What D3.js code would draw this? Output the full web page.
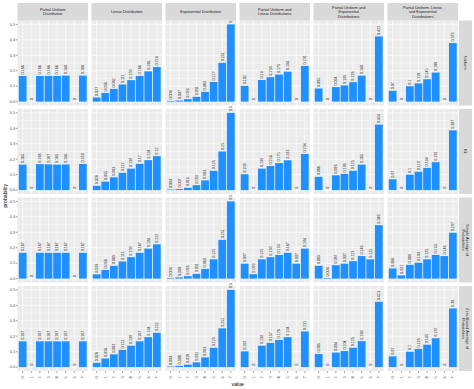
<!DOCTYPE html>
<html>
<head>
<meta charset="utf-8">
<script src="https://cdnjs.cloudflare.com/ajax/libs/d3/7.8.5/d3.min.js"></script>
<style>
  body { margin: 0; background: #fff; }
  text { font-family: "Liberation Sans", Arial, sans-serif; }
</style>
</head>
<body>
<div id="chart_div"></div>
<script>
// categories on the x axis
var categories = ["0", "1", "2", "3", "4", "5", "6", "7"];

// facet titles
var columnTitles = [
  ["Partial Uniform", "Distribution"],
  ["Linear Distribution"],
  ["Exponential Distribution"],
  ["Partial Uniform and", "Linear Distributions"],
  ["Partial Uniform and", "Exponential", "Distributions"],
  ["Partial Uniform, Linear,", "and Exponential", "Distributions"]
];
var rowTitles = [
  ["Uniform"],
  ["KL"],
  ["Simple Average of", "Probabilities"],
  ["Zero-Biased Average of", "Probabilities"]
];

// probabilities, one list per panel (row by row)
var uniformValues = [
  [0.166, 0, 0.166, 0.166, 0.166, 0.168, 0, 0.168],
  [0.027, 0.056, 0.082, 0.111, 0.139, 0.166, 0.196, 0.224],
  [0.004, 0.007, 0.016, 0.031, 0.063, 0.127, 0.251, 0.5],
  [0.102, 0, 0.14, 0.158, 0.175, 0.194, 0, 0.231],
  [0.085, 0, 0.094, 0.105, 0.126, 0.168, 0, 0.422],
  [0.07, 0, 0.1, 0.118, 0.145, 0.188, 0, 0.379]
];
var klValues = [
  [0.165, 0, 0.168, 0.167, 0.165, 0.166, 0, 0.169],
  [0.028, 0.055, 0.083, 0.112, 0.139, 0.17, 0.194, 0.22],
  [0.004, 0.007, 0.015, 0.032, 0.063, 0.125, 0.25, 0.5],
  [0.103, 0, 0.139, 0.156, 0.175, 0.193, 0, 0.234],
  [0.086, 0, 0.096, 0.105, 0.125, 0.165, 0, 0.424],
  [0.07, 0, 0.1, 0.119, 0.144, 0.181, 0, 0.387]
];
var simpleAvgValues = [
  [0.167, 0, 0.167, 0.167, 0.167, 0.167, 0, 0.167],
  [0.028, 0.056, 0.083, 0.111, 0.139, 0.167, 0.194, 0.222],
  [0.004, 0.008, 0.016, 0.031, 0.063, 0.125, 0.251, 0.5],
  [0.097, 0.029, 0.125, 0.139, 0.153, 0.167, 0.097, 0.194],
  [0.083, 0.004, 0.087, 0.097, 0.113, 0.146, 0.125, 0.346],
  [0.066, 0.021, 0.089, 0.103, 0.125, 0.153, 0.146, 0.297]
];
var zeroAvgValues = [
  [0.167, 0, 0.167, 0.167, 0.167, 0.167, 0, 0.167],
  [0.028, 0.056, 0.083, 0.111, 0.139, 0.167, 0.194, 0.222],
  [0.004, 0.008, 0.016, 0.031, 0.063, 0.125, 0.251, 0.5],
  [0.102, 0, 0.139, 0.157, 0.176, 0.194, 0, 0.231],
  [0.085, 0, 0.094, 0.104, 0.125, 0.168, 0, 0.423],
  [0.07, 0, 0.1, 0.118, 0.145, 0.187, 0, 0.38]
];
var rowValues = [uniformValues, klValues, simpleAvgValues, zeroAvgValues];

var yTicks = [0, 0.1, 0.2, 0.3, 0.4, 0.5];
var yMinor = [0.05, 0.15, 0.25, 0.35, 0.45];

// layout of the facet grid ("top" is taken by window, so prefix everything)
var chartW = 474, chartH = 389;
var gridLeft = 17.5, gridRight = 458, gridTop = 20.5, gridBottom = 371, gap = 3.5;
var stripTop = 3;
var pw = (gridRight - gridLeft - 5 * gap) / 6;
var ph = (gridBottom - gridTop - 3 * gap) / 4;

var svg = d3.select("#chart_div")
  .append("svg")
  .attr("width", chartW)
  .attr("height", chartH);

// scales shared by every panel (ggplot-like expansion)
var x = d3.scaleBand()
  .domain(categories)
  .range([0, pw])
  .paddingInner(0.1)
  .paddingOuter(0.15);

var y = d3.scaleLinear()
  .domain([-0.025, 0.525])
  .range([ph, 0]);

rowValues.forEach(function(rowData, r) {
  rowData.forEach(function(vals, c) {
    var px = gridLeft + c * (pw + gap);
    var py = gridTop + r * (ph + gap);
    var g = svg.append("g").attr("transform", "translate(" + px + "," + py + ")");

    // panel background + grid
    g.append("rect").attr("width", pw).attr("height", ph).attr("fill", "#EBEBEB");
    g.selectAll(".minor").data(yMinor).enter().append("line")
      .attr("x1", 0).attr("x2", pw)
      .attr("y1", function(d) { return y(d); }).attr("y2", function(d) { return y(d); })
      .attr("stroke", "#fff").attr("stroke-width", 0.35);
    g.selectAll(".major").data(yTicks).enter().append("line")
      .attr("x1", 0).attr("x2", pw)
      .attr("y1", function(d) { return y(d); }).attr("y2", function(d) { return y(d); })
      .attr("stroke", "#fff").attr("stroke-width", 0.7);
    g.selectAll(".vgrid").data(categories).enter().append("line")
      .attr("x1", function(d) { return x(d) + x.bandwidth() / 2; })
      .attr("x2", function(d) { return x(d) + x.bandwidth() / 2; })
      .attr("y1", 0).attr("y2", ph)
      .attr("stroke", "#fff").attr("stroke-width", 0.7);

    // bars
    g.selectAll(".bar").data(vals).enter().append("rect")
      .attr("x", function(d, i) { return x(categories[i]); })
      .attr("y", function(d) { return y(d); })
      .attr("width", x.bandwidth())
      .attr("height", function(d) { return y(0) - y(d); })
      .attr("fill", "#1E90FF");

    // value labels, rotated
    g.selectAll(".lab").data(vals).enter().append("text")
      .attr("transform", function(d, i) {
        return "translate(" + (x(categories[i]) + x.bandwidth() / 2 + 1.3) + "," + (y(d) - 1.5) + ")rotate(-90)";
      })
      .attr("font-size", 3.7)
      .attr("fill", "#222")
      .text(function(d) { return String(d); });

    // y axis on the first column
    if (c === 0) {
      var yg = svg.append("g").attr("transform", "translate(" + gridLeft + "," + py + ")");
      yg.selectAll("line").data(yTicks).enter().append("line")
        .attr("x1", -1.8).attr("x2", 0)
        .attr("y1", function(d) { return y(d); }).attr("y2", function(d) { return y(d); })
        .attr("stroke", "#333").attr("stroke-width", 0.5);
      yg.selectAll("text").data(yTicks).enter().append("text")
        .attr("x", -2.5)
        .attr("y", function(d) { return y(d) + 1.3; })
        .attr("text-anchor", "end")
        .attr("font-size", 3.8)
        .attr("fill", "#4D4D4D")
        .text(function(d) { return d3.format(".1f")(d); });
    }

    // x axis on the last row
    if (r === 3) {
      var xg = svg.append("g").attr("transform", "translate(" + px + "," + (py + ph) + ")");
      xg.selectAll("line").data(categories).enter().append("line")
        .attr("x1", function(d) { return x(d) + x.bandwidth() / 2; })
        .attr("x2", function(d) { return x(d) + x.bandwidth() / 2; })
        .attr("y1", 0).attr("y2", 1.8)
        .attr("stroke", "#333").attr("stroke-width", 0.5);
      xg.selectAll("text").data(categories).enter().append("text")
        .attr("transform", function(d) {
          return "translate(" + (x(d) + x.bandwidth() / 2 + 1.3) + ",6.5)rotate(-90)";
        })
        .attr("text-anchor", "middle")
        .attr("font-size", 3.8)
        .attr("fill", "#4D4D4D")
        .text(function(d) { return d; });
    }
  });
});

// column strips
columnTitles.forEach(function(lines, c) {
  var px = gridLeft + c * (pw + gap);
  svg.append("rect")
    .attr("x", px).attr("y", stripTop)
    .attr("width", pw).attr("height", gridTop - stripTop)
    .attr("fill", "#D9D9D9");
  var mid = stripTop + (gridTop - stripTop) / 2;
  var lh = 4.6;
  lines.forEach(function(t, i) {
    svg.append("text")
      .attr("x", px + pw / 2)
      .attr("y", mid + (i - (lines.length - 1) / 2) * lh + 1.4)
      .attr("text-anchor", "middle")
      .attr("font-size", 3.9)
      .attr("fill", "#1A1A1A")
      .text(t);
  });
});

// row strips on the right, text reads top to bottom
rowTitles.forEach(function(lines, r) {
  var py = gridTop + r * (ph + gap);
  var sx = gridRight + 1, sw = 13;
  svg.append("rect")
    .attr("x", sx).attr("y", py)
    .attr("width", sw).attr("height", ph)
    .attr("fill", "#D9D9D9");
  var lh = 4.6;
  lines.forEach(function(t, i) {
    var cx = sx + sw / 2 - (i - (lines.length - 1) / 2) * lh;
    svg.append("text")
      .attr("transform", "translate(" + (cx - 1.4) + "," + (py + ph / 2) + ")rotate(90)")
      .attr("text-anchor", "middle")
      .attr("font-size", 3.9)
      .attr("fill", "#1A1A1A")
      .text(t);
  });
});

// axis titles
svg.append("text")
  .attr("x", (gridLeft + gridRight) / 2)
  .attr("y", 386)
  .attr("text-anchor", "middle")
  .attr("font-size", 5.2)
  .attr("fill", "#000")
  .text("value");

svg.append("text")
  .attr("transform", "translate(7," + ((gridTop + gridBottom) / 2) + ")rotate(-90)")
  .attr("text-anchor", "middle")
  .attr("font-size", 5.2)
  .attr("fill", "#000")
  .text("probability");
</script>
</body>
</html>
